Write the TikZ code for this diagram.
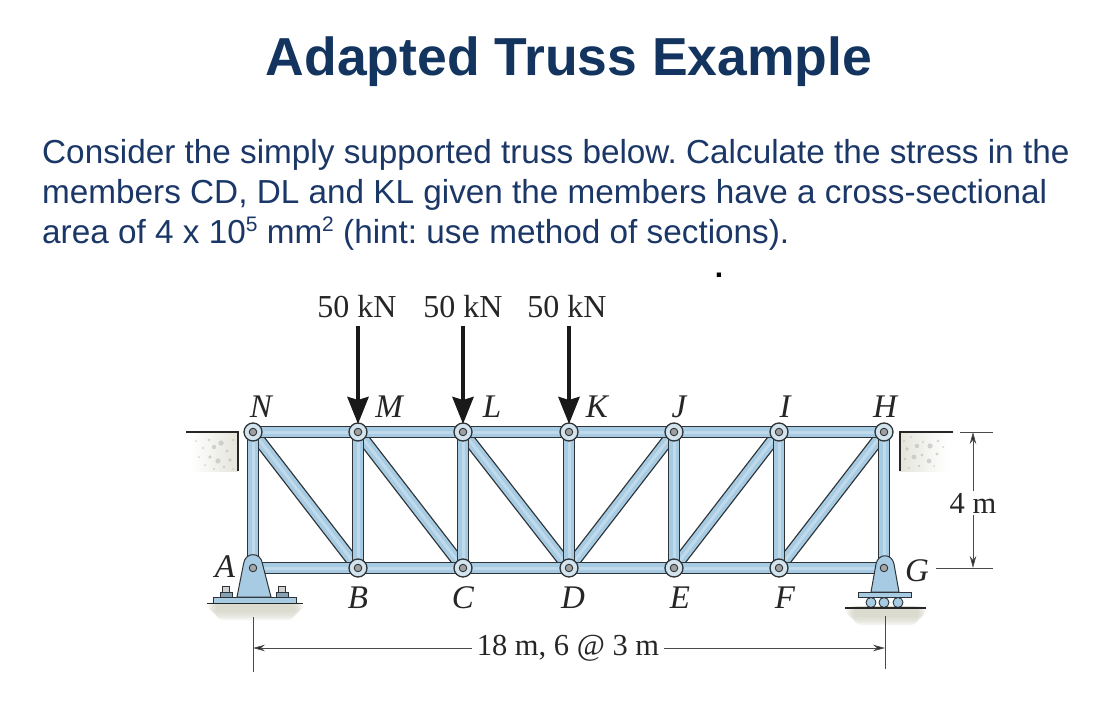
\documentclass[tikz,border=0pt]{standalone}
\usepackage{fontspec}
\setmainfont{Liberation Sans}
\newfontfamily\tserif{Liberation Serif}
\usetikzlibrary{arrows.meta}
\definecolor{navy}{HTML}{12345F}
\definecolor{bodyblue}{HTML}{1B3768}
\definecolor{steel}{HTML}{A6CBE2}
\definecolor{steellight}{HTML}{BFDAEB}
\definecolor{edge}{HTML}{2E3337}
\definecolor{pinfill}{HTML}{D3E4EE}
\definecolor{dimc}{HTML}{4A4A4A}
\definecolor{groundc}{HTML}{CFCFBE}
\newcommand{\supr}[1]{\raisebox{.34em}{\fontsize{21}{23}\selectfont #1}}
\tikzset{
  x=1pt,y=-1pt,
  memberout/.style={draw=edge,line width=12.6pt},
  memberin/.style={draw=steel,line width=10pt},
  membershine/.style={draw=steellight,line width=3pt},
  pin/.style={circle,draw=edge,line width=1.3pt,fill=pinfill,minimum size=18pt,inner sep=0pt},
  pincore/.style={circle,draw=edge,line width=.9pt,fill=gray!75,minimum size=7.5pt,inner sep=0pt},
  gusset/.style={draw=edge,line width=1pt,fill=steel},
  plate/.style={draw=edge,line width=1pt,fill=steel},
  groundline/.style={draw=black!85,line width=1.2pt},
  dimline/.style={draw=dimc,line width=.8pt},
  dimarrow/.style={draw=dimc,line width=.8pt,-{Stealth[length=12pt,width=6.5pt,fill=black!85]}},
  loadarrow/.style={draw=black!90,line width=4.2pt,-{Stealth[length=27pt,width=21pt,inset=3pt,fill=black!90]}},
  lab/.style={font=\tserif\itshape\fontsize{33}{35}\selectfont,text=black!85,inner sep=0pt},
  dimtext/.style={font=\tserif\fontsize{30.5}{32}\selectfont,text=black!85,inner sep=0pt},
  loadtext/.style={font=\tserif\fontsize{32}{34}\selectfont,text=black!85,inner sep=0pt},
  bodytext/.style={font=\frenchspacing\fontsize{33.3}{36}\selectfont,text=bodyblue,inner sep=0pt,anchor=base west},
  titletext/.style={font=\bfseries\fontsize{53.5}{56}\selectfont,text=navy,inner sep=0pt,anchor=base},
  stone/.style={fill=gray!55,opacity=.6},
}
\begin{document}
\begin{tikzpicture}
\useasboundingbox (0,0) rectangle (1096,705);
\fill[white] (0,0) rectangle (1096,705);

% text
\node[titletext] (title) at (569,75) {Adapted Truss Example};
\node[bodytext] (l1) at (42,163) {Consider the simply supported truss below. Calculate the stress in the};
\node[bodytext] (l2) at (42,203) {members CD, DL and KL given the members have a cross-sectional};
\node[bodytext] (l3) at (42,243) {area of 4 x 10\supr{5} mm\supr{2} (hint: use method of sections).};
\node[font=\bfseries\fontsize{30}{32}\selectfont,text=black,inner sep=0pt,anchor=base] (stray) at (719,277) {.};

% joints
\foreach \n/\x in {N/253,M/358,L/463,K/569,J/674,I/779,H/884} \coordinate (\n) at (\x,432);
\foreach \n/\x in {A/253,B/358,C/463,D/569,E/674,F/779,G/884} \coordinate (\n) at (\x,568);

% ground shadows
\foreach \o in {0,2,4,6,8}{
  \fill[groundc,opacity=.22,rounded corners=7pt] (208+\o,601) rectangle (303-\o,612+\o);
  \fill[groundc,opacity=.22,rounded corners=7pt] (846+\o,606) rectangle (926-\o,617+\o);
}

% concrete
\shade[left color=white,right color=groundc!55] (190,433) rectangle (238,471);
\shade[right color=white,left color=groundc!55] (900,433) rectangle (948,471);
\foreach \x/\y/\r in {196/441/1,203/448/1.2,199/457/1,209/440/1.4,214/447/2.2,221/443/2.6,227/451/1.6,210/457/1.8,218/461/2.6,230/460/1.8,224/467/1.4,205/465/1,233/440/1.2,214/469/1.2,233/469/1}{
  \fill[stone] (\x,\y) circle[radius=\r pt];
}
\foreach \x/\y/\r in {904/441/1.2,911/437/1,907/449/1.8,917/446/2.2,923/442/1.2,930/446/2.6,938/441/1.4,905/459/1.4,914/457/2.4,922/455/1.6,929/461/2.4,937/454/1.6,943/447/1,909/468/1.2,919/466/1.4,934/466/1}{
  \fill[stone] (\x,\y) circle[radius=\r pt];
}
\draw[groundline] (186,432) -- (238,432) -- (238,471);
\draw[groundline] (953,432) -- (900,432) -- (900,471);

% members: diagonals beneath, then verticals and chords
\foreach \a/\b in {N/B,M/C,L/D,J/D,I/E,H/F}{
  \draw[memberout] (\a) -- (\b);
  \draw[memberin] (\a) -- (\b);
  \draw[membershine] (\a) -- (\b);
}
\foreach \a/\b in {N/A,M/B,L/C,K/D,J/E,I/F,H/G,N/M,M/L,L/K,K/J,J/I,I/H,A/B,B/C,C/D,D/E,E/F,F/G}{
  \draw[memberout] (\a) -- (\b);
  \draw[memberin] (\a) -- (\b);
  \draw[membershine] (\a) -- (\b);
}

% pins
\foreach \n in {N,M,L,K,J,I,H,B,C,D,E,F}{
  \node[pin] (pin\n) at (\n) {};
  \node[pincore] (core\n) at (\n) {};
}

% support A
\draw[plate] (213,597) rectangle (296,603);
\foreach \x in {226,282}{
  \draw[draw=edge,line width=.7pt,fill=steel!80!black] (\x-6,597) rectangle (\x+6,592);
  \draw[draw=edge,line width=.7pt,fill=gray!35] (\x-3.5,592) rectangle (\x+3.5,586.5);
}
\draw[gusset] (237,597) -- (243.5,564) .. controls (245,551.5) and (261,551.5) .. (262.5,564) -- (271,597) -- cycle;
\node[pincore,fill=gray!70] (coreA) at (A) {};
\draw[groundline] (207,603.5) -- (303,603.5);

% support G
\draw[gusset] (871,592) -- (876,564) .. controls (878,553) and (892,553) .. (894,564) -- (899,592) -- cycle;
\node[pincore,fill=gray!70] (coreG) at (G) {};
\draw[plate] (858,592) rectangle (911,597);
\foreach \x in {871,884,898}{
  \draw[draw=edge,line width=.9pt,fill=steel] (\x,602.5) circle[radius=5pt];
}
\draw[groundline] (845,608) -- (926,608);

% loads
\foreach \n/\x in {a/358,b/463,c/569}{
  \coordinate (top\n) at (\x,326);
  \coordinate (tip\n) at (\x,424);
  \draw[loadarrow] (top\n) -- (tip\n);
}
\node[loadtext] (f1) at (357,307) {50 kN};
\node[loadtext] (f2) at (463,307) {50 kN};
\node[loadtext] (f3) at (567,307) {50 kN};

% joint labels
\node[lab] (lN) at (261,407) {N};
\node[lab] (lM) at (389,407) {M};
\node[lab] (lL) at (492,407) {L};
\node[lab] (lK) at (597,407) {K};
\node[lab] (lJ) at (679,407) {J};
\node[lab] (lI) at (785,407) {I};
\node[lab] (lH) at (885,407) {H};
\node[lab] (lA) at (225,567) {A};
\node[lab] (lB) at (358,598) {B};
\node[lab] (lC) at (463,598) {C};
\node[lab] (lD) at (573,598) {D};
\node[lab] (lE) at (680,598) {E};
\node[lab] (lF) at (785,598) {F};
\node[lab] (lG) at (917,571) {G};

% dimensions
\coordinate (e1a) at (253,617); \coordinate (e1b) at (253,672);
\coordinate (e2a) at (885,616); \coordinate (e2b) at (885,669);
\draw[dimline] (e1a) -- (e1b);
\draw[dimline] (e2a) -- (e2b);
\node[dimtext] (span) at (568,648) {18 m, 6 @ 3 m};
\coordinate (s1) at (253,648); \coordinate (s2) at (885,648);
\draw[dimarrow] (span.west) ++(-5,0) -- (s1);
\draw[dimarrow] (span.east) ++(5,0) -- (s2);

\coordinate (h1a) at (960,432); \coordinate (h1b) at (993,432);
\coordinate (h2a) at (936,568); \coordinate (h2b) at (993,568);
\draw[dimline] (h1a) -- (h1b);
\draw[dimline] (h2a) -- (h2b);
\node[dimtext,fill=white,inner sep=2pt] (hgt) at (973,503) {4 m};
\coordinate (v1) at (973,432); \coordinate (v2) at (973,568);
\draw[dimarrow] (hgt.north) -- (v1);
\draw[dimarrow] (hgt.south) -- (v2);
\end{tikzpicture}
\end{document}
